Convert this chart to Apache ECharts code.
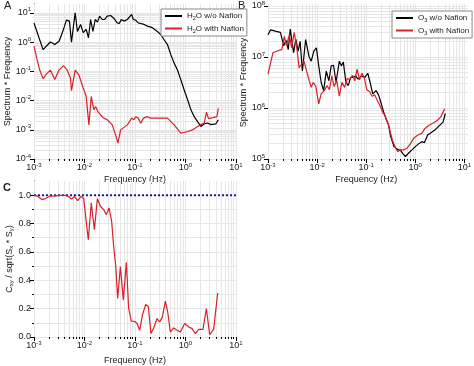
<!DOCTYPE html>
<html><head><meta charset="utf-8">
<script src="https://cdn.jsdelivr.net/npm/echarts@6/dist/echarts.min.js"></script>
<style>html,body{margin:0;padding:0;background:#fff}#c{width:474px;height:366px}</style>
</head><body><div id="c"></div>
<script>
// ---------- Panel A: H2O spectrum * frequency ----------
const freqA_noNafion = [0.001,0.00151,0.00211,0.00258,0.00314,0.00383,0.00439,0.00504,0.00552,0.00653,0.00726,0.00834,0.00942,0.0108,0.0120,0.0132,0.0147,0.0163,0.0181,0.0199,0.0224,0.0249,0.0282,0.0329,0.0383,0.0446,0.0489,0.0535,0.0604,0.0705,0.0859,0.0927,0.103,0.116,0.130,0.151,0.176,0.221,0.278,0.324,0.377,0.439,0.512,0.596,0.693,0.807,0.942,1.10,1.28,1.49,1.73,2.02,2.35,2.74,3.18,4.01,4.46];
const h2o_noNafion = [4.5,0.55,1.0,0.82,1.06,2.7,5.6,5.2,0.98,10,2.3,4.0,2.1,2.7,1.4,5.9,2.3,5.9,4.8,7.7,5.9,5.9,7.7,8.1,6.4,4.5,4.3,5.9,5.2,5.9,8.8,5.9,5.6,4.5,4.3,4.0,3.5,3.1,2.3,1.8,1.2,0.82,0.37,0.19,0.11,0.052,0.023,0.0106,0.0048,0.0028,0.0019,0.0013,0.0016,0.0017,0.0015,0.0016,0.0022];
const freqA_nafion = [0.001,0.00115,0.0013,0.00151,0.00179,0.00211,0.00258,0.00314,0.00383,0.00453,0.00527,0.00552,0.00653,0.00771,0.00942,0.0108,0.0122,0.0136,0.0153,0.0166,0.0184,0.0208,0.0242,0.0282,0.0355,0.0413,0.0459,0.0519,0.0705,0.0859,0.0955,0.103,0.116,0.130,0.147,0.176,0.205,0.278,0.439,0.596,0.807,1.10,1.38,1.73,2.02,2.35,2.6,2.85,3.5,4.2,4.46];
const h2o_nafion = [0.72,0.25,0.11,0.056,0.083,0.11,0.052,0.11,0.156,0.11,0.059,0.0216,0.11,0.076,0.027,0.0138,0.00147,0.0138,0.0048,0.00625,0.0042,0.0032,0.0025,0.0022,0.00147,0.00067,0.00035,0.00099,0.00147,0.0025,0.0022,0.0028,0.0025,0.00168,0.0025,0.0028,0.0025,0.0025,0.0025,0.00147,0.00076,0.00087,0.00099,0.0013,0.0015,0.0017,0.0040,0.0024,0.0026,0.0028,0.0054];

// ---------- Panel B: O3 spectrum * frequency ----------
const freqB_noNafion = [0.001,0.00113,0.00147,0.00179,0.00209,0.00233,0.00259,0.00284,0.00332,0.00369,0.00411,0.00451,0.00502,0.00585,0.00682,0.0076,0.00859,0.0097,0.0108,0.0121,0.0136,0.0154,0.0174,0.0194,0.0216,0.0244,0.0284,0.0312,0.0342,0.0386,0.0431,0.048,0.0542,0.0612,0.0682,0.0796,0.0927,0.108,0.120,0.136,0.159,0.179,0.200,0.222,0.252,0.284,0.316,0.369,0.43,0.501,0.558,0.631,0.736,0.858,1.0,1.17,1.36,1.54,1.79,2.09,2.51,3.02,3.69,4.1];
const o3_noNafion = [2.73e7,3.4e7,3.17e7,3.03e7,1.67e7,2.12e7,1.40e7,3.52e7,1.21e7,2.25e7,1.30e7,2.03e7,5.3e6,2.19e7,1.04e7,8.3e6,1.30e7,1.51e7,6.7e6,3.2e6,2.19e6,5.3e6,3.42e6,6.7e6,6.9e6,3.2e6,8.3e6,6.7e6,8.0e6,3.2e6,2.74e6,3.96e6,3.96e6,4.27e6,3.68e6,4.27e6,3.96e6,4.8e6,3.2e6,1.89e6,2.19e6,1.81e6,1.27e6,9.0e5,6.2e5,4.7e5,2.74e5,1.75e5,1.56e5,1.47e5,1.27e5,1.12e5,1.31e5,1.51e5,1.75e5,1.98e5,2.19e5,2.1e5,2.95e5,3.27e5,3.69e5,4.4e5,5.3e5,7.8e5];
const freqB_nafion = [0.001,0.00113,0.00126,0.00171,0.00191,0.00216,0.00237,0.00272,0.00303,0.00342,0.00386,0.0043,0.0048,0.00542,0.00612,0.00693,0.0076,0.00833,0.00942,0.0108,0.0121,0.014,0.0159,0.0179,0.02,0.0222,0.0252,0.0284,0.0321,0.0364,0.0411,0.0465,0.0526,0.0585,0.0652,0.0736,0.082,0.0914,0.103,0.117,0.132,0.149,0.169,0.191,0.216,0.244,0.284,0.341,0.398,0.443,0.5,0.58,0.681,0.794,0.926,1.13,1.36,1.58,1.91,2.33,2.84,3.31,3.98];
const o3_nafion = [4.6e6,7.7e6,1.21e7,1.36e7,1.40e7,2.54e7,1.67e7,2.73e7,1.51e7,3.03e7,1.51e7,6.2e6,7.2e6,8.3e6,5.3e6,3.42e6,2.54e6,3.18e6,2.65e6,1.2e6,1.89e6,2.19e6,2.74e6,2.29e6,4.27e6,2.65e6,3.42e6,1.70e6,3.18e6,2.54e6,3.79e6,3.57e6,4.4e6,3.42e6,5.75e6,3.57e6,4.8e6,3.96e6,2.29e6,2.1e6,1.70e6,1.81e6,1.40e6,1.12e6,8.3e5,7.0e5,4.7e5,2.36e5,1.63e5,1.40e5,1.51e5,1.51e5,1.63e5,1.98e5,2.55e5,2.95e5,3.18e5,3.98e5,4.6e5,5.1e5,5.75e5,6.7e5,9.7e5];

// ---------- Panel C: normalised co-spectrum ----------
const freqC = [0.001,0.00118,0.00144,0.00168,0.00204,0.00264,0.00332,0.00417,0.00485,0.00548,0.00629,0.00733,0.00853,0.00962,0.0105,0.0119,0.0136,0.0157,0.0180,0.0206,0.0240,0.0271,0.0306,0.0345,0.0378,0.0414,0.0454,0.0513,0.0588,0.0674,0.0749,0.0846,0.0970,0.110,0.124,0.140,0.163,0.184,0.207,0.234,0.273,0.308,0.348,0.399,0.444,0.501,0.583,0.679,0.791,0.964,1.16,1.35,1.57,1.82,2.22,2.59,3.01,3.61,4.34];
const coherence = [1.0,0.993,0.969,0.976,0.993,0.995,0.998,0.998,0.991,0.972,0.991,0.962,0.991,0.976,0.976,0.686,0.946,0.757,0.976,0.922,0.898,0.863,0.910,0.816,0.638,0.508,0.272,0.496,0.26,0.527,0.201,0.111,0.111,0.095,0.047,0.154,0.229,0.213,0.024,0.064,0.13,0.106,0.142,0.253,0.177,0.035,0.064,0.047,0.035,0.095,0.071,0.059,0.024,0.054,0.054,0.201,0.017,0.054,0.31];
const unityFreq = [0.001, 10];
const unityVal = [1, 1];

// ---------- tick labels ----------
const xTicks = [0.001, 0.01, 0.1, 1, 10];
const yTicksA = [1e-4, 1e-3, 1e-2, 1e-1, 1, 10];
const yTicksB = [1e5, 1e6, 1e7, 1e8];
const yTicksC = [0, 0.2, 0.4, 0.6, 0.8, 1.0];
const yGridC = [0, 0.1, 0.2, 0.3, 0.4, 0.5, 0.6, 0.7, 0.8, 0.9, 1.0];
const yMinorC = [0.1, 0.3, 0.5, 0.7, 0.9];

const FONT = '"Liberation Sans", Arial, Helvetica, sans-serif';
const TXT = '#1a1a1a';
const GRIDC = '#e6e6e6';
const RED = '#d8202a';
const grids = [
  {left: 34, top: 4, width: 202, height: 155},
  {left: 268, top: 4, width: 200, height: 155},
  {left: 34, top: 181, width: 202, height: 156}
];

function minorVals(lo, hi) {
  const out = [];
  for (let k = lo; k < hi; k++) for (let m = 2; m <= 9; m++) out.push(+(m * Math.pow(10, k)).toPrecision(3));
  return out;
}
const xMinor = minorVals(-3, 1);
const xGrid = xTicks.concat(xMinor);
const yGridA = yTicksA.concat(minorVals(-4, 1));
const yGridB = yTicksB.concat(minorVals(5, 8));

function powLabel(v) { return '{b|10}{s|' + Math.round(Math.log10(v)) + '}'; }
const labelRich = {
  b: {fontSize: 9, fontFamily: FONT, color: TXT},
  s: {fontSize: 6, fontFamily: FONT, color: TXT, padding: [0, 0, 6, 0]}
};
const nameStyle = {fontSize: 9, fontFamily: FONT, color: TXT};
const zip = (xs, ys) => xs.map((x, i) => [x, ys[i]]);

const xAxis = [], yAxis = [];
function addX(g, nameGap) {
  const base = {type: 'log', logBase: 10, gridIndex: g, min: 0.001, max: 10, position: 'bottom'};
  xAxis.push(Object.assign({}, base, {
    axisLine: {show: false, onZero: false}, axisLabel: {show: false}, splitLine: {show: false},
    axisTick: {show: true, inside: true, length: grids[g].height, customValues: xGrid,
      lineStyle: {color: GRIDC, width: 1}}
  }));
  xAxis.push(Object.assign({}, base, {
    axisLine: {show: false, onZero: false}, axisLabel: {show: false}, splitLine: {show: false},
    axisTick: {show: true, length: 2, customValues: xMinor, lineStyle: {color: '#000'}}
  }));
  xAxis.push(Object.assign({}, base, {
    name: 'Frequency (Hz)', nameLocation: 'middle', nameGap: nameGap, nameTextStyle: nameStyle,
    axisLine: {show: true, onZero: false, lineStyle: {color: '#000', width: 1}},
    axisTick: {show: true, length: 4, customValues: xTicks, lineStyle: {color: '#000'}},
    axisLabel: {show: true, customValues: xTicks, formatter: powLabel, rich: labelRich, margin: 3},
    splitLine: {show: false}
  }));
  return xAxis.length - 1;
}
function addYLog(g, min, max, ticks, gridVals, name, nameGap) {
  const base = {type: 'log', logBase: 10, gridIndex: g, min: min, max: max, position: 'left'};
  yAxis.push(Object.assign({}, base, {
    axisLine: {show: false, onZero: false}, axisLabel: {show: false}, splitLine: {show: false},
    axisTick: {show: true, inside: true, length: grids[g].width, customValues: gridVals,
      lineStyle: {color: GRIDC, width: 1}}
  }));
  yAxis.push(Object.assign({}, base, {
    name: name, nameLocation: 'middle', nameGap: nameGap, nameRotate: 90, nameTextStyle: nameStyle,
    axisLine: {show: true, onZero: false, lineStyle: {color: '#000', width: 1}},
    axisTick: {show: true, length: 4, customValues: ticks, lineStyle: {color: '#000'}},
    axisLabel: {show: true, customValues: ticks, formatter: powLabel, rich: labelRich, margin: 3},
    splitLine: {show: false}
  }));
  return yAxis.length - 1;
}

const xA = addX(0, 16), xB = addX(1, 16), xC = addX(2, 19);
const yA = addYLog(0, 1e-4, 20, yTicksA, yGridA, 'Spectrum * Frequency', 19);
const yB = addYLog(1, 1e5, 1e8, yTicksB, yGridB, 'Spectrum * Frequency', 19);

// C y axes (linear)
const baseC = {type: 'value', gridIndex: 2, min: 0, max: 1.1, position: 'left'};
yAxis.push(Object.assign({}, baseC, {
  axisLine: {show: false, onZero: false}, axisLabel: {show: false}, splitLine: {show: false},
  axisTick: {show: true, inside: true, length: grids[2].width, customValues: yGridC,
    lineStyle: {color: GRIDC, width: 1}}
}));
yAxis.push(Object.assign({}, baseC, {
  axisLine: {show: false, onZero: false}, axisLabel: {show: false}, splitLine: {show: false},
  axisTick: {show: true, length: 2, customValues: yMinorC, lineStyle: {color: '#000'}}
}));
yAxis.push(Object.assign({}, baseC, {
  name: 'C{sub|xy} / sqrt(S{sub|x} * S{sub|y})', nameLocation: 'middle', nameGap: 20, nameRotate: 90,
  nameTextStyle: Object.assign({}, nameStyle, {rich: {sub: {fontSize: 6, fontFamily: FONT, color: TXT, padding: [0, 0, 0, 0], verticalAlign: 'bottom'}}}),
  axisLine: {show: true, onZero: false, lineStyle: {color: '#000', width: 1}},
  axisTick: {show: true, length: 4, customValues: yTicksC, lineStyle: {color: '#000'}},
  axisLabel: {show: true, customValues: yTicksC, formatter: v => v.toFixed(1), fontSize: 9, fontFamily: FONT, color: TXT, margin: 3},
  splitLine: {show: false}
}));
const yC = yAxis.length - 1;

function lineSeries(name, xi, yi, data, color, width, type) {
  return {name: name, type: 'line', xAxisIndex: xi, yAxisIndex: yi, data: data, symbol: 'none', showSymbol: false,
    lineStyle: {color: color, width: width, type: type || 'solid'}, itemStyle: {color: color}, z: 3, silent: true};
}

const legendRich = {
  t: {fontSize: 8, fontFamily: FONT, color: TXT},
  sub: {fontSize: 5.5, fontFamily: FONT, color: TXT, padding: [5, 0, 0, 0]}
};
function legendFmt(n) {
  const m = n.match(/^(H|O)(\d)(.*)$/);
  return '{t|' + m[1] + '}{sub|' + m[2] + '}{t|' + m[3] + '}';
}
const legendBase = {orient: 'vertical', itemWidth: 17, itemHeight: 2, itemGap: 3, icon: 'rect',
  padding: [3, 3, 2, 4], borderColor: '#888', borderWidth: 1, backgroundColor: '#fff',
  formatter: legendFmt, textStyle: {fontSize: 8, fontFamily: FONT, color: TXT, rich: legendRich}};

const option = {
  animation: false,
  backgroundColor: '#fff',
  textStyle: {fontFamily: FONT},
  grid: grids.map(g => Object.assign({containLabel: false}, g)),
  xAxis: xAxis,
  yAxis: yAxis,
  legend: [
    Object.assign({}, legendBase, {left: 161, top: 9, data: ['H2O w/o Nafion', 'H2O with Nafion']}),
    Object.assign({}, legendBase, {left: 392, top: 11, data: ['O3 w/o Nafion', 'O3 with Nafion']})
  ],
  graphic: [
    {type: 'text', left: 4, top: 0, style: {text: 'A', font: '11px ' + FONT, fill: TXT}},
    {type: 'text', left: 238, top: 0, style: {text: 'B', font: '11px ' + FONT, fill: TXT}},
    {type: 'text', left: 3, top: 182, style: {text: 'C', font: 'bold 11px ' + FONT, fill: TXT}}
  ],
  series: [
    lineSeries('H2O w/o Nafion', xA, yA, zip(freqA_noNafion, h2o_noNafion), '#000', 1.2),
    lineSeries('H2O with Nafion', xA, yA, zip(freqA_nafion, h2o_nafion), RED, 1.2),
    lineSeries('O3 w/o Nafion', xB, yB, zip(freqB_noNafion, o3_noNafion), '#000', 1.2),
    lineSeries('O3 with Nafion', xB, yB, zip(freqB_nafion, o3_nafion), RED, 1.2),
    lineSeries('unity', xC, yC, zip(unityFreq, unityVal), '#1c1ca0', 2, 'dotted'),
    lineSeries('coherence', xC, yC, zip(freqC, coherence), RED, 1.2)
  ]
};
const chart = echarts.init(document.getElementById('c'), null, {renderer: 'canvas'});
chart.setOption(option);
</script>
</body></html>
